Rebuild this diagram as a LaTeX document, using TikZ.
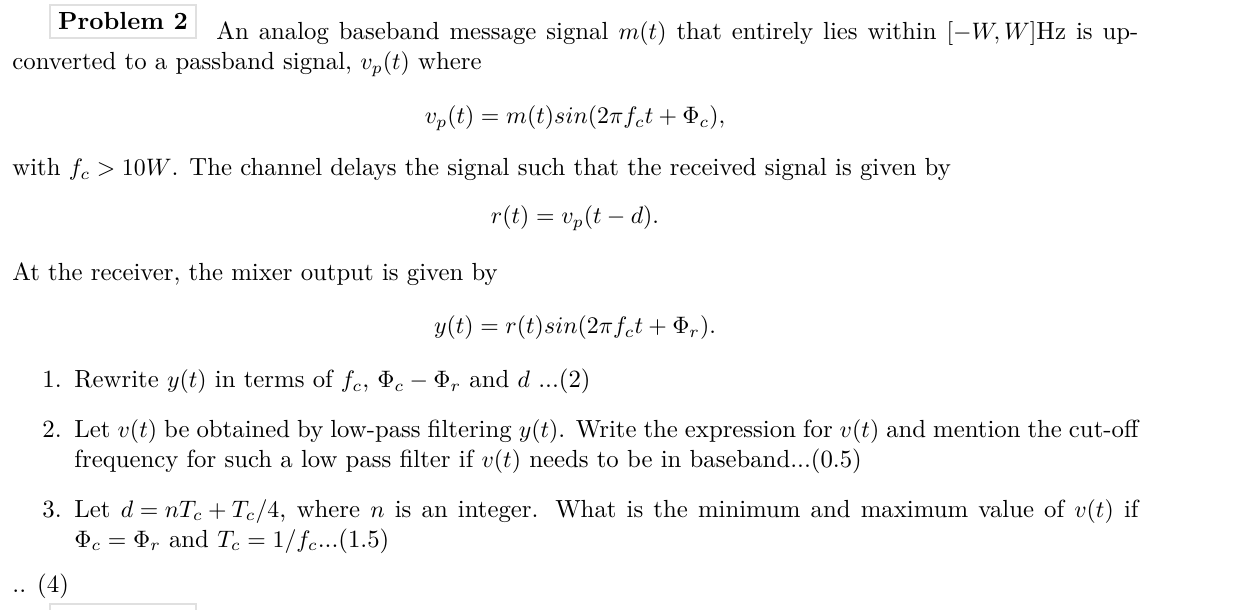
\documentclass[tikz,border=0pt]{standalone}
\newdimen\px \px=0.42pt
\begin{document}
\begin{tikzpicture}[x=0.42pt,y=-0.42pt,
  txt/.style={anchor=base west,inner sep=0pt,font=\fontsize{10.4}{12}\selectfont},
  eq/.style={anchor=base,inner sep=0pt,font=\fontsize{10.4}{12}\selectfont},
  pbox/.style={draw=black!12,line width=1pt}]
\useasboundingbox[fill=white] (0,0) rectangle (1236,610);
\draw[pbox] (50,5) rectangle (196,38);
\node[eq,font=\fontsize{10.4}{12}\selectfont\bfseries] (pr) at (123,30) {Problem 2};
\node[txt] (l1) at (216,40) {\makebox[922\px][s]{An analog baseband message signal \mbox{$m(t)$} that entirely lies within \mbox{$[-W,W]$Hz} is up-}};
\node[txt] (l2) at (12,70) {converted to a passband signal, $v_p(t)$ where};
\node[eq] (e1) at (575,124) {$v_p(t)=m(t)sin(2\pi f_ct+\Phi_c),$};
\node[txt] (l3) at (12,176) {with $f_c>10W$. The channel delays the signal such that the received signal is given by};
\node[eq] (e2) at (575,224) {$r(t)=v_p(t-d).$};
\node[txt] (l4) at (12,281) {At the receiver, the mixer output is given by};
\node[eq] (e3) at (575,334) {$y(t)=r(t)sin(2\pi f_ct+\Phi_r).$};
\node[txt] (n1) at (42,388) {1.};
\node[txt] (i1) at (74,388) {Rewrite $y(t)$ in terms of $f_c$, $\Phi_c-\Phi_r$ and $d$ ...(2)};
\node[txt] (n2) at (42,438) {2.};
\node[txt] (i2a) at (74,438) {\makebox[1064\px][s]{Let \mbox{$v(t)$} be obtained by low-pass filtering \mbox{$y(t)$}. Write the expression for \mbox{$v(t)$} and mention the cut-off}};
\node[txt] (i2b) at (74,468) {frequency for such a low pass filter if $v(t)$ needs to be in baseband...(0.5)};
\node[txt] (n3) at (42,517) {3.};
\node[txt] (i3a) at (74,517) {\makebox[1064\px][s]{Let \mbox{$d=nT_c+T_c/4$}, where \mbox{$n$} is an integer. What is the minimum and maximum value of \mbox{$v(t)$} if}};
\node[txt] (i3b) at (74,547) {$\Phi_c=\Phi_r$ and $T_c=1/f_c$...(1.5)};
\node[txt] (l5) at (12,592) {.. (4)};
\begin{scope}
\clip (0,0) rectangle (1236,610);
\draw[pbox] (50,604) rectangle (196,640);
\end{scope}
\end{tikzpicture}
\end{document}
